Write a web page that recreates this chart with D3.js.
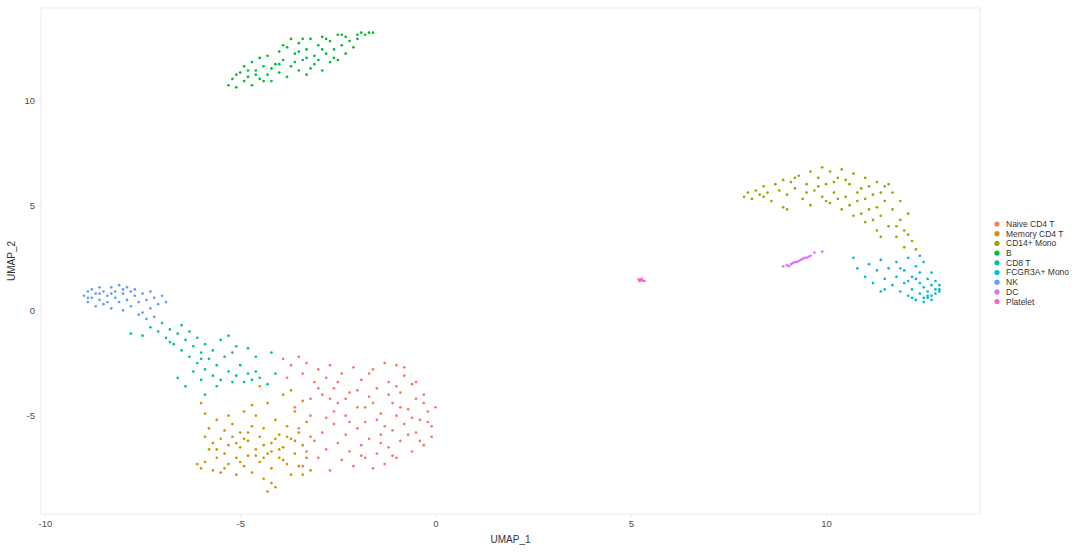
<!DOCTYPE html>
<html><head><meta charset="utf-8">
<script src="https://cdn.jsdelivr.net/npm/d3@7"></script>
<style>body{margin:0;background:#fff;font-family:"Liberation Sans",Arial,sans-serif}</style>
</head><body><svg id="c" width="1080" height="554"></svg>
<script>
const categories=["Naive CD4 T","Memory CD4 T","CD14+ Mono","B","CD8 T","FCGR3A+ Mono","NK","DC","Platelet"];
const colors=["#F8766D","#D39200","#93AA00","#00BA38","#00C19F","#00B9E3","#619CFF","#DB72FB","#FF61C3"];
const xTicks=[-10,-5,0,5,10];
const yTicks=[-5,0,5,10];
const naive="-3.9,-2.3 -3.7,-2.6 -3.5,-2.2 -3.4,-3.0 -3.3,-2.5 -3.1,-3.4 -3.0,-2.8 -2.9,-4.0 -2.8,-3.2 -2.7,-2.6 -2.6,-3.7 -2.5,-4.4 -2.4,-3.0 -2.3,-5.0 -2.2,-3.9 -2.1,-2.7 -2.0,-4.6 -1.9,-3.3 -1.8,-5.3 -1.7,-4.1 -1.6,-2.8 -1.5,-3.7 -1.4,-4.9 -1.3,-2.5 -1.2,-3.4 -1.1,-4.4 -1.0,-2.6 -0.9,-3.9 -0.8,-3.1 -0.7,-4.7 -0.6,-3.5 -0.5,-4.2 -0.4,-5.2 -0.3,-4.0 -0.2,-4.8 -0.1,-5.5 0.0,-4.6 -0.1,-6.0 -0.3,-6.4 -0.5,-5.8 -0.6,-6.7 -0.8,-5.4 -0.9,-6.2 -1.0,-7.0 -1.1,-5.7 -1.2,-6.5 -1.3,-7.3 -1.4,-5.9 -1.5,-6.8 -1.6,-7.5 -1.7,-6.1 -1.8,-7.0 -1.9,-6.4 -2.0,-5.6 -2.1,-7.4 -2.2,-6.7 -2.3,-5.9 -2.4,-7.1 -2.5,-6.3 -2.6,-5.4 -2.7,-7.6 -2.8,-6.6 -2.9,-5.8 -3.0,-7.0 -3.1,-6.2 -3.2,-5.0 -3.3,-6.7 -3.4,-7.4 -3.5,-5.6 -3.6,-4.6 -1.5,-5.2 -1.0,-5.0 -0.7,-5.9 -2.0,-3.8 -1.2,-4.0 -0.4,-6.2 -2.6,-4.8 -3.0,-3.7 -1.8,-4.6 -0.9,-4.6 -2.3,-4.2 -1.4,-6.3 -0.2,-5.3 -3.8,-3.2 -2.8,-5.1 -1.1,-6.9 -0.5,-3.4 -1.7,-3.0 -0.8,-2.7 -1.6,-4.4 -2.2,-5.3 -0.6,-5.1 -1.3,-5.5 -2.5,-3.4 -3.2,-4.2 -1.9,-6.9 -0.3,-4.4 -1.0,-3.6 -2.7,-4.2";
const memory="-6.1,-7.3 -6.0,-7.5 -5.9,-6.0 -5.9,-7.2 -5.8,-5.6 -5.8,-6.6 -5.7,-7.6 -5.7,-6.3 -5.6,-5.2 -5.6,-7.0 -5.5,-6.1 -5.5,-7.7 -5.4,-5.7 -5.4,-6.8 -5.3,-6.4 -5.3,-7.3 -5.2,-5.4 -5.2,-6.0 -5.1,-7.0 -5.1,-7.8 -5.0,-6.5 -5.0,-5.8 -4.9,-4.8 -4.9,-7.4 -4.8,-6.2 -4.8,-6.9 -4.7,-5.5 -4.7,-7.7 -4.6,-6.6 -4.6,-5.0 -4.5,-7.2 -4.5,-6.0 -4.4,-8.0 -4.4,-5.6 -4.3,-6.8 -4.3,-4.4 -4.2,-6.3 -4.2,-7.5 -4.1,-5.2 -4.1,-8.4 -4.0,-7.0 -4.0,-5.9 -3.9,-6.5 -3.9,-4.0 -3.8,-7.3 -3.8,-5.5 -3.7,-6.1 -3.7,-7.8 -3.6,-4.8 -3.6,-6.8 -3.5,-5.8 -3.5,-7.4 -3.4,-6.4 -3.4,-4.3 -3.3,-7.0 -3.3,-5.3 -3.2,-6.0 -3.2,-7.6 -4.3,-8.6 -4.2,-8.2 -4.5,-3.6 -3.7,-3.8 -5.9,-4.9 -6.0,-4.4 -4.6,-6.9 -4.0,-6.6 -4.9,-6.1 -5.3,-5.0 -3.9,-7.1 -4.4,-7.0 -5.6,-6.6 -5.0,-7.2 -4.1,-6.1 -3.6,-6.2 -4.7,-4.5 -3.4,-7.8 -4.4,-6.4 -4.2,-6.7 -5.1,-6.3 -4.8,-5.8 -3.8,-6.0 -5.4,-7.5";
const mono14="7.9,5.4 8.0,5.6 8.1,5.3 8.2,5.7 8.3,5.5 8.4,5.9 8.5,5.6 8.6,5.2 8.7,6.0 8.8,5.7 8.9,4.9 8.9,6.2 9.0,5.5 9.1,6.1 9.2,5.8 9.3,6.4 9.4,5.3 9.5,6.0 9.6,6.6 9.6,5.0 9.7,5.7 9.8,6.3 9.9,6.8 9.9,5.4 10.0,6.0 10.1,6.6 10.1,5.1 10.2,5.6 10.3,6.3 10.4,6.7 10.4,4.8 10.5,5.4 10.6,6.0 10.7,6.5 10.7,4.5 10.8,5.2 10.9,5.8 11.0,6.3 11.0,4.2 11.1,4.8 11.2,5.5 11.3,6.1 11.3,3.8 11.4,4.5 11.5,5.2 11.5,5.9 11.6,4.0 11.7,4.8 11.7,5.6 11.8,3.5 11.9,4.3 11.9,5.2 12.0,3.0 12.0,3.8 12.1,4.6 12.2,3.3 12.3,2.9 11.2,4.3 10.9,4.6 10.3,5.3 9.8,5.9 9.2,6.3 11.6,6.0 11.4,3.5 10.6,5.0 11.0,5.3 8.4,5.4 9.0,4.8 10.0,5.2 11.8,4.0 12.1,3.6 10.5,6.2 11.4,5.6 10.2,6.1 10.8,5.6 11.1,5.9 9.5,5.6 11.3,4.9";
const bcell="-5.3,10.7 -5.2,11.0 -5.1,10.6 -5.0,11.3 -4.9,10.9 -4.9,11.6 -4.8,11.1 -4.7,10.7 -4.7,11.8 -4.6,11.4 -4.5,11.0 -4.5,12.0 -4.4,11.6 -4.3,11.2 -4.3,12.1 -4.2,10.9 -4.1,11.7 -4.0,12.3 -4.0,11.3 -3.9,11.9 -3.8,11.1 -3.8,12.5 -3.7,11.6 -3.6,12.2 -3.5,11.4 -3.5,12.7 -3.4,11.9 -3.3,11.2 -3.3,12.4 -3.2,12.9 -3.1,11.7 -3.1,12.1 -3.0,12.6 -2.9,11.4 -2.9,13.0 -2.8,12.2 -2.7,11.8 -2.7,12.8 -2.6,12.4 -2.5,13.1 -2.5,11.9 -2.4,12.6 -2.3,12.2 -2.3,13.0 -2.2,12.8 -2.1,12.5 -2.0,13.1 -2.0,12.9 -1.9,13.2 -1.8,13.1 -1.7,13.2 -1.6,13.2 -4.6,11.2 -4.2,11.5 -3.9,12.6 -3.6,11.8 -3.4,12.9 -3.0,11.9 -2.8,12.9 -2.6,12.0 -4.8,11.4 -5.1,11.2 -4.4,10.9 -3.7,12.9 -3.2,11.5 -2.4,13.1 -3.3,12.0 -4.0,11.7 -2.9,12.4 -3.5,12.3";
const cd8="-7.3,-0.8 -7.1,-1.0 -7.0,-0.6 -6.9,-1.3 -6.8,-0.9 -6.7,-1.6 -6.6,-1.1 -6.5,-0.7 -6.5,-1.9 -6.4,-1.4 -6.3,-1.0 -6.3,-2.2 -6.2,-1.7 -6.1,-2.5 -6.1,-1.3 -6.0,-2.0 -5.9,-2.8 -5.9,-1.6 -5.8,-2.3 -5.7,-3.1 -5.7,-1.9 -5.6,-2.6 -5.5,-1.4 -5.5,-3.3 -5.4,-2.2 -5.3,-2.9 -5.2,-3.4 -5.2,-2.0 -5.1,-3.1 -5.0,-2.6 -4.9,-3.4 -4.8,-3.0 -4.7,-3.3 -4.6,-2.9 -4.5,-3.2 -4.3,-3.5 -4.8,-1.8 -4.6,-2.2 -4.2,-2.0 -4.1,-3.0 -6.8,-1.5 -6.0,-3.3 -6.4,-3.6 -5.9,-4.0 -6.6,-3.2 -7.5,-1.2 -7.8,-1.1 -5.3,-1.2 -6.2,-2.9 -5.6,-3.6 -6.0,-2.3 -5.1,-1.7";
const mono16="10.8,2.0 11.0,1.6 11.1,2.2 11.2,1.3 11.3,1.9 11.4,2.4 11.5,1.5 11.5,1.0 11.6,2.0 11.7,1.2 11.8,2.3 11.8,1.6 11.9,0.9 12.0,1.9 12.0,1.3 12.1,2.5 12.1,0.7 12.2,1.6 12.2,1.0 12.3,2.1 12.3,0.5 12.4,1.3 12.4,0.8 12.4,1.8 12.5,0.4 12.5,1.1 12.5,2.3 12.6,0.7 12.6,1.5 12.6,0.9 12.7,1.2 12.7,0.5 12.7,1.8 12.8,0.8 12.8,1.0 12.8,1.4 12.9,0.9 12.9,1.2 12.4,2.6 12.3,1.5 12.6,0.6 12.5,0.6 12.7,0.7 12.2,0.6 12.9,1.0 11.4,0.9 10.7,2.5 11.9,2.0 12.1,1.4";
const nk="-9.0,0.7 -8.9,0.9 -8.9,0.4 -8.8,1.0 -8.8,0.6 -8.7,0.2 -8.7,0.8 -8.6,1.1 -8.6,0.5 -8.5,0.9 -8.5,0.3 -8.4,0.7 -8.3,1.1 -8.3,0.1 -8.2,0.6 -8.2,0.9 -8.1,1.2 -8.1,0.4 -8.0,0.8 -8.0,0.0 -7.9,1.1 -7.9,0.5 -7.8,0.9 -7.8,0.2 -7.7,0.7 -7.7,1.0 -7.6,0.4 -7.5,0.8 -7.5,-0.1 -7.4,0.5 -7.3,0.9 -7.3,0.1 -7.2,0.6 -7.1,0.3 -7.0,0.7 -7.4,-0.4 -7.6,-0.2 -8.4,0.4 -8.6,0.8 -8.0,1.0 -7.2,-0.3 -6.9,0.4 -8.9,0.6 -8.3,0.8";
const dc="8.9,2.1 9.0,2.15 9.1,2.2 9.15,2.25 9.2,2.3 9.3,2.35 9.35,2.4 9.4,2.45 9.5,2.5 9.55,2.55 9.6,2.6 9.05,2.1 9.25,2.3 9.45,2.5 9.7,2.75 9.9,2.8";
const platelet="5.2,1.48 5.25,1.45 5.3,1.42 5.35,1.4 5.22,1.4 5.28,1.5";
const seriesStr=[naive,memory,mono14,bcell,cd8,mono16,nk,dc,platelet];

const parse=s=>s.trim().split(/\s+/).map(p=>p.split(",").map(Number));
const pts=[];seriesStr.forEach((s,i)=>parse(s).forEach(([x,y])=>pts.push({x,y,c:i})));

const svg=d3.select("#c");
const L=41,R=980,T=8,B=514;
const x=d3.scaleLinear().domain([-10.1,13.94]).range([L,R]);
const y=d3.scaleLinear().domain([-9.67,14.37]).range([B,T]);
svg.append("rect").attr("x",L).attr("y",T).attr("width",R-L).attr("height",B-T).attr("fill","#fff").attr("stroke","#ebebeb").attr("stroke-width",1);
const gx=svg.append("g").attr("transform",`translate(0,${B})`).call(d3.axisBottom(x).tickValues(xTicks).tickSize(3).tickFormat(d=>String(d)));
const gy=svg.append("g").attr("transform",`translate(${L},0)`).call(d3.axisLeft(y).tickValues(yTicks).tickSize(3).tickFormat(d=>String(d)));
[gx,gy].forEach(g=>{g.select(".domain").remove();g.selectAll("line").attr("stroke","#ebebeb");g.selectAll("text").attr("fill","#4d4d4d").style("font-size","9.5px").style("font-family","Liberation Sans, Arial");});
svg.append("g").selectAll("circle").data(pts).join("circle").attr("cx",d=>x(d.x)).attr("cy",d=>y(d.y)).attr("r",1.35).attr("fill",d=>colors[d.c]);
svg.append("text").attr("x",(L+R)/2).attr("y",543).attr("text-anchor","middle").style("font-size","10px").attr("fill","#333").text("UMAP_1");
svg.append("text").attr("transform",`translate(15,${(T+B)/2}) rotate(-90)`).attr("text-anchor","middle").style("font-size","10px").attr("fill","#333").text("UMAP_2");
const lg=svg.append("g").selectAll("g").data(categories).join("g").attr("transform",(d,i)=>`translate(997,${224+i*9.7})`);
lg.append("circle").attr("r",2.6).attr("fill",(d,i)=>colors[i]);
lg.append("text").attr("x",9).attr("dy","0.35em").style("font-size","8.5px").attr("fill","#333").text(d=>d);
</script></body></html>
